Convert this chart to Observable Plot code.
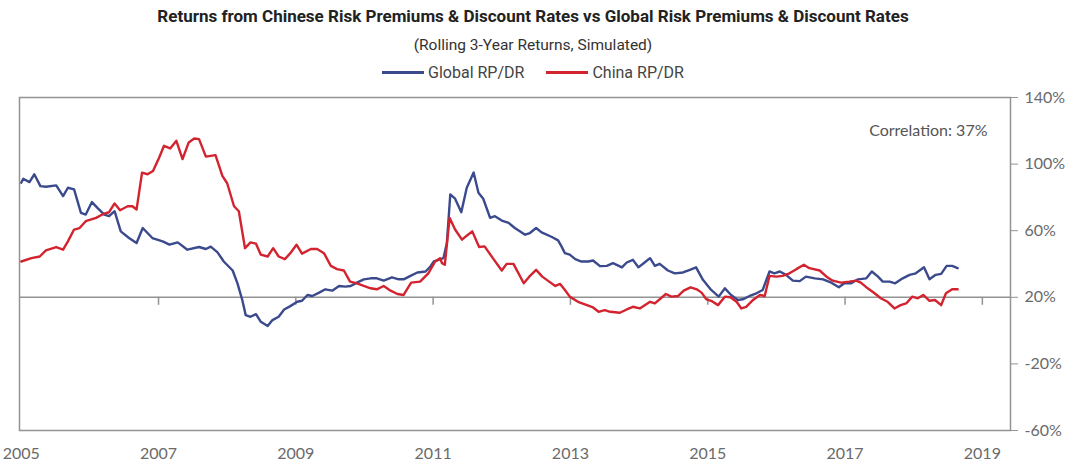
<!DOCTYPE html>
<html>
<head>
<meta charset="utf-8">
<script src="https://cdn.jsdelivr.net/npm/d3@7"></script>
<script src="https://cdn.jsdelivr.net/npm/@observablehq/plot@0.6"></script>
<style>
  html, body { margin: 0; padding: 0; background: #fff; }
  #wrap { width: 1080px; height: 465px; position: relative; overflow: hidden; }
  #header { position: relative; width: 1080px; height: 85px; }
  .hd { position: absolute; left: 0; width: 1066px; text-align: center; white-space: nowrap; }
  #title { top: 6px; font: 700 17px Roboto, sans-serif; color: #222; }
  #subtitle { top: 36px; font: 400 15.5px Roboto, sans-serif; color: #333; }
  #legend { top: 63px; display: flex; justify-content: center; align-items: center; gap: 22px; font: 400 16px Roboto, sans-serif; color: #444; }
  .item { display: flex; align-items: center; gap: 4px; }
  .sw { width: 42px; height: 3px; display: inline-block; }
</style>
</head>
<body>
<div id="wrap">
  <div id="header">
    <div id="title" class="hd">Returns from Chinese Risk Premiums &amp; Discount Rates vs Global Risk Premiums &amp; Discount Rates</div>
    <div id="subtitle" class="hd">(Rolling 3-Year Returns, Simulated)</div>
    <div id="legend" class="hd"></div>
  </div>
  <div id="chart"></div>
</div>
<script>
// ---- data ----
const seriesNames = ["Global RP/DR", "China RP/DR"];
const seriesColors = ["#3b4a8c", "#d2232f"];
const correlationLabel = "Correlation: 37%";

const globalYears = [2005.00,2005.03,2005.12,2005.19,2005.28,2005.36,2005.51,2005.61,2005.68,2005.77,2005.87,2005.94,2006.03,2006.11,2006.21,2006.28,2006.36,2006.45,2006.57,2006.68,2006.77,2006.91,2007.06,2007.16,2007.28,2007.42,2007.59,2007.69,2007.76,2007.86,2007.95,2008.08,2008.15,2008.22,2008.27,2008.34,2008.42,2008.49,2008.59,2008.66,2008.75,2008.83,2008.92,2009.02,2009.09,2009.17,2009.24,2009.34,2009.43,2009.53,2009.63,2009.72,2009.80,2009.89,2009.99,2010.09,2010.18,2010.28,2010.40,2010.50,2010.57,2010.67,2010.77,2010.89,2010.96,2011.01,2011.08,2011.15,2011.20,2011.25,2011.32,2011.41,2011.49,2011.59,2011.66,2011.73,2011.83,2011.90,2012.00,2012.10,2012.19,2012.34,2012.41,2012.50,2012.58,2012.73,2012.82,2012.87,2012.92,2012.99,2013.07,2013.16,2013.26,2013.33,2013.43,2013.53,2013.62,2013.75,2013.82,2013.91,2013.99,2014.08,2014.16,2014.23,2014.30,2014.42,2014.52,2014.64,2014.74,2014.83,2014.93,2015.05,2015.16,2015.25,2015.34,2015.44,2015.51,2015.61,2015.71,2015.80,2015.90,2015.97,2016.05,2016.14,2016.24,2016.34,2016.43,2016.56,2016.68,2016.80,2016.91,2016.99,2017.09,2017.19,2017.31,2017.39,2017.48,2017.55,2017.65,2017.73,2017.84,2017.94,2018.03,2018.15,2018.23,2018.32,2018.40,2018.48,2018.56,2018.64];
const globalValues = [88.8,91.2,89.2,93.9,86.8,86.4,87.2,80.8,85.8,84.8,70.7,69.7,77.2,73.7,69.7,68.7,71.7,59.6,55.6,52.6,61.6,55.6,53.6,51.6,53.0,48.6,50.2,49.0,50.4,47.0,41.5,36.1,28.4,18.4,9.3,8.3,9.9,5.3,2.7,6.3,8.3,12.7,14.7,17.3,17.9,21.4,20.8,22.8,24.8,24.0,26.8,26.4,26.8,28.8,30.8,31.4,31.4,30.0,32.0,30.8,30.8,32.9,34.9,35.5,38.5,41.5,42.5,43.5,52.6,81.8,79.2,71.1,85.8,94.9,82.8,79.2,67.7,68.7,66.1,64.7,61.6,57.6,58.6,61.6,59.0,56.2,54.2,50.6,46.5,45.6,42.9,41.5,41.5,42.1,38.7,38.9,40.5,38.0,40.9,42.5,38.0,40.9,43.5,38.9,40.1,36.1,34.4,34.9,36.5,38.0,30.5,24.4,20.4,25.4,21.4,18.4,18.8,20.8,22.4,24.4,35.5,34.4,35.5,33.5,30.0,29.7,32.4,31.4,30.8,28.8,26.0,28.4,28.4,30.8,31.4,35.5,32.4,29.4,29.4,28.4,31.4,33.5,34.4,38.0,30.8,33.5,34.1,38.9,38.9,37.5];

const chinaYears = [2005.00,2005.15,2005.27,2005.36,2005.51,2005.61,2005.68,2005.77,2005.85,2005.94,2006.09,2006.21,2006.28,2006.36,2006.44,2006.55,2006.62,2006.68,2006.76,2006.84,2006.92,2007.01,2007.08,2007.17,2007.26,2007.35,2007.44,2007.52,2007.59,2007.69,2007.83,2007.93,2008.00,2008.10,2008.17,2008.26,2008.34,2008.42,2008.49,2008.59,2008.67,2008.75,2008.84,2008.92,2009.01,2009.09,2009.22,2009.31,2009.41,2009.51,2009.60,2009.70,2009.79,2009.89,2009.99,2010.09,2010.18,2010.28,2010.38,2010.48,2010.57,2010.68,2010.81,2010.93,2011.03,2011.10,2011.13,2011.17,2011.24,2011.32,2011.42,2011.49,2011.57,2011.67,2011.75,2011.88,2012.00,2012.07,2012.17,2012.32,2012.40,2012.50,2012.59,2012.69,2012.78,2012.85,2012.92,2012.99,2013.11,2013.24,2013.33,2013.41,2013.50,2013.58,2013.72,2013.82,2013.91,2014.01,2014.16,2014.23,2014.39,2014.47,2014.57,2014.65,2014.75,2014.84,2014.91,2014.98,2015.05,2015.15,2015.25,2015.33,2015.42,2015.49,2015.56,2015.66,2015.76,2015.83,2015.90,2016.00,2016.09,2016.19,2016.29,2016.40,2016.48,2016.63,2016.73,2016.82,2016.94,2017.06,2017.16,2017.23,2017.33,2017.43,2017.52,2017.62,2017.72,2017.81,2017.89,2017.98,2018.06,2018.14,2018.23,2018.31,2018.40,2018.47,2018.56,2018.64];
const chinaValues = [41.5,43.5,44.5,48.2,50.2,48.6,53.6,60.7,61.6,65.7,67.7,70.3,71.1,76.4,72.3,74.7,74.7,72.7,94.9,93.9,95.9,104.0,111.0,109.4,114.0,103.0,113.0,115.4,115.0,104.5,105.4,92.9,88.5,74.7,71.7,49.5,53.0,52.2,45.6,44.5,49.5,44.5,42.9,46.5,51.6,46.2,49.0,49.0,46.5,38.9,36.9,36.1,29.4,28.4,26.8,25.4,24.8,26.8,24.0,22.0,21.4,28.8,29.4,34.4,41.5,43.5,40.5,39.5,67.7,60.7,54.6,57.0,59.6,50.2,50.6,42.9,36.1,40.1,40.1,28.4,32.4,36.5,32.4,29.4,26.8,28.0,24.4,20.4,17.3,15.3,13.9,11.3,12.3,11.3,10.7,12.7,14.3,13.3,17.3,16.3,22.0,20.4,20.8,24.0,26.0,24.8,22.8,18.8,17.9,15.3,20.4,20.0,17.3,13.3,14.3,18.4,21.4,20.8,32.9,32.4,32.9,34.4,36.9,39.5,37.5,36.1,32.4,30.0,28.8,29.4,30.0,28.8,25.4,22.4,19.4,17.3,13.3,15.3,16.3,20.4,19.4,21.4,17.9,18.4,15.3,22.4,24.8,24.8];

const yearTicks = [2005, 2007, 2009, 2011, 2013, 2015, 2017, 2019];
const valueTicks = [-60, -20, 20, 60, 100, 140];
const baselineValue = 20;

// ---- tables built from the arrays ----
const globalData = globalYears.map((t, i) => ({t, v: globalValues[i]}));
const chinaData = chinaYears.map((t, i) => ({t, v: chinaValues[i]}));

// ---- legend ----
const legend = document.getElementById("legend");
seriesNames.forEach((name, i) => {
  const it = document.createElement("div");
  it.className = "item";
  const sw = document.createElement("span");
  sw.className = "sw";
  sw.style.background = seriesColors[i];
  const tx = document.createElement("span");
  tx.textContent = name;
  it.appendChild(sw); it.appendChild(tx);
  legend.appendChild(it);
});

// ---- chart ----
const gray = "#939393";
const tickLen = 4.8; // in y units (~8px)
const chart = Plot.plot({
  width: 1080,
  height: 380,
  marginTop: 12,
  marginBottom: 35,
  marginLeft: 19,
  marginRight: 70,
  x: {domain: [2004.975, 2019.41]},
  y: {domain: [-60, 140]},
  style: {fontFamily: "Lato, sans-serif", fontSize: "16px", color: "#6a6a6a", background: "#fff"},
  marks: [
    Plot.ruleY([baselineValue], {stroke: gray, strokeWidth: 1.5}),
    Plot.ruleX(yearTicks.slice(1), {x: d => d, y1: baselineValue, y2: baselineValue - tickLen, stroke: gray, strokeWidth: 1.5}),
    Plot.line(globalData, {x: "t", y: "v", stroke: seriesColors[0], strokeWidth: 2.4}),
    Plot.line(chinaData, {x: "t", y: "v", stroke: seriesColors[1], strokeWidth: 2.4}),
    Plot.frame({stroke: gray, strokeWidth: 1.5}),
    Plot.axisX(yearTicks, {anchor: "bottom", tickSize: 0, tickPadding: 17, tickFormat: "d", label: null}),
    Plot.axisY(valueTicks, {anchor: "right", tickSize: 7, tickPadding: 7, tickFormat: d => d + "%", stroke: gray, label: null}),
    Plot.text([correlationLabel], {frameAnchor: "top-right", dx: -23, dy: 27, text: d => d, fontSize: 16, fill: "#555", textAnchor: "end"})
  ]
});
document.getElementById("chart").appendChild(chart);
</script>
</body>
</html>
